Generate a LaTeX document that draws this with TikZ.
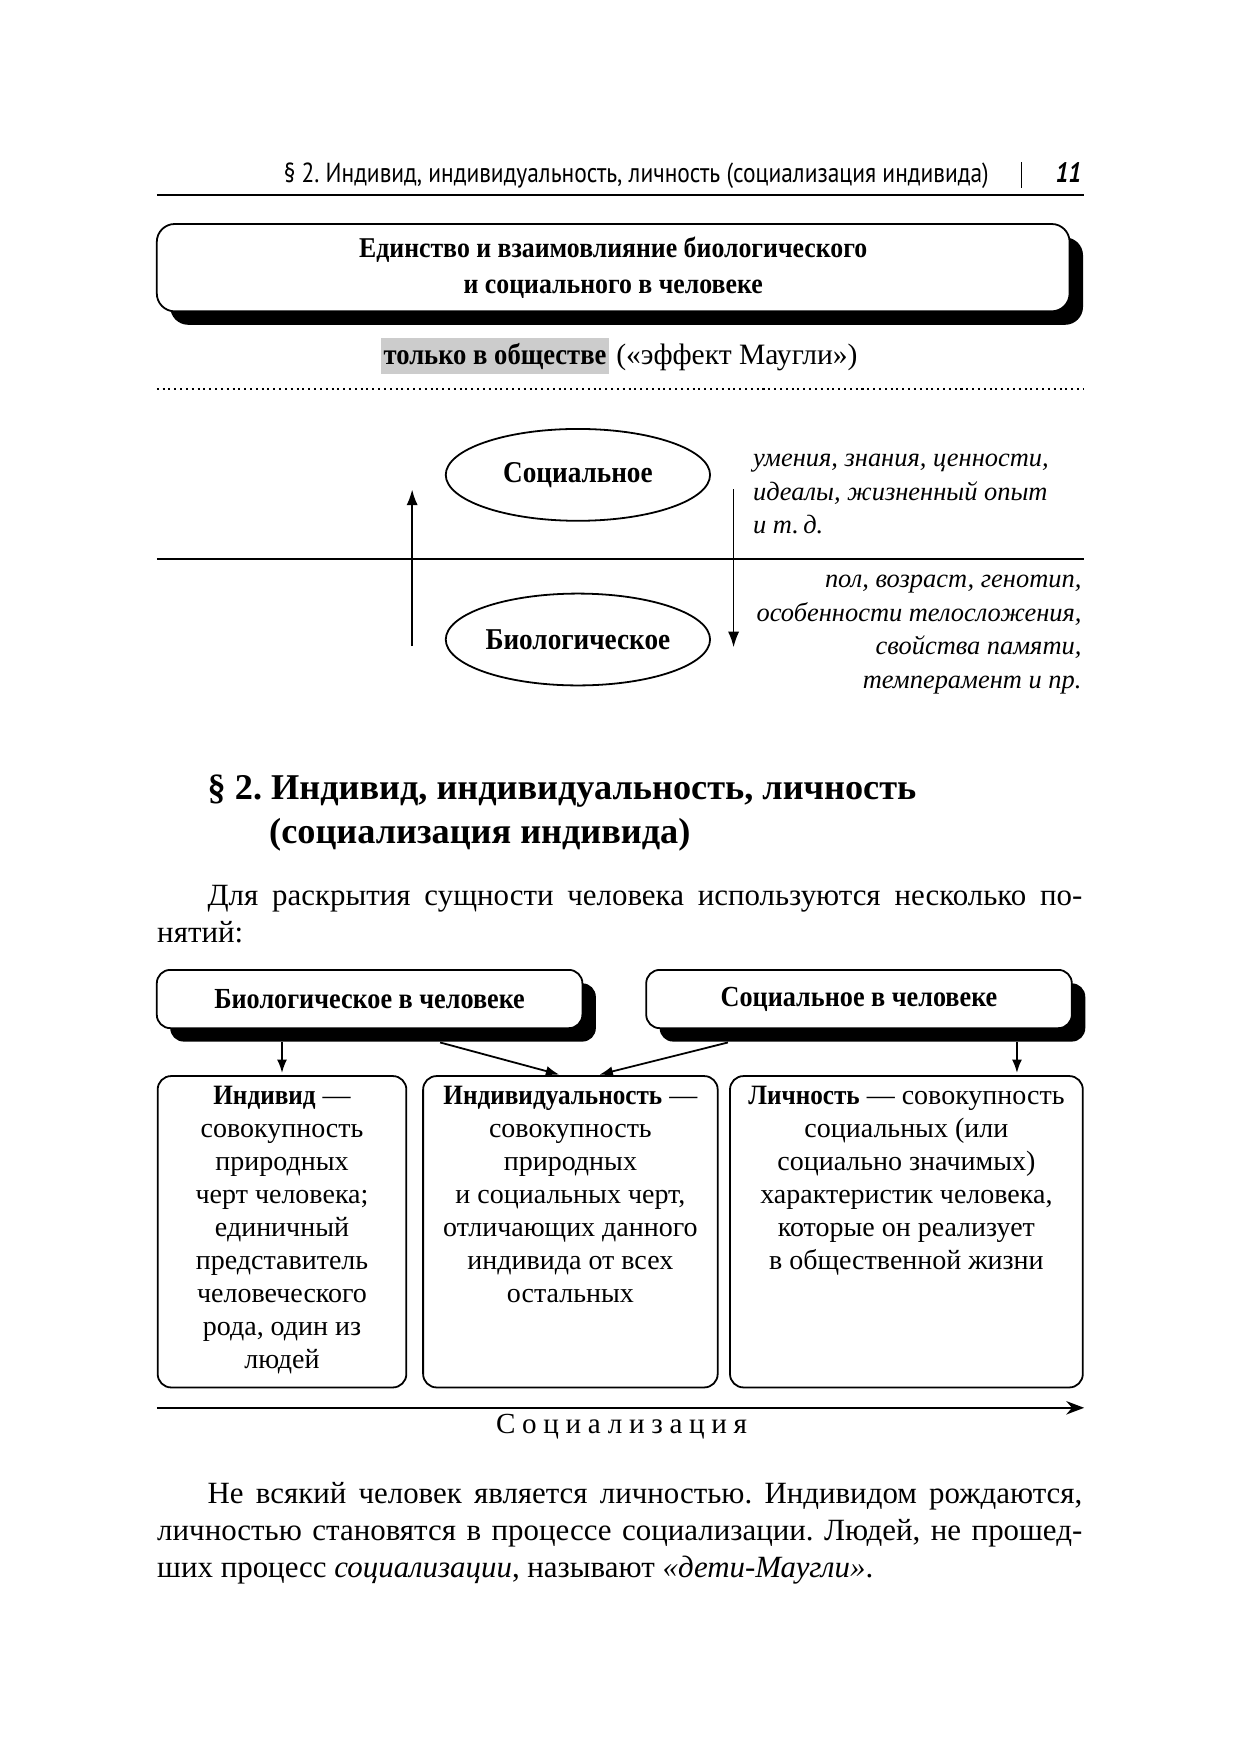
\documentclass[tikz,border=0pt]{standalone}
\usepackage{fontspec}
\setmainfont{Liberation Serif}
\newfontfamily\narrowfont{Liberation Serif}[FakeStretch=0.9]
\newfontfamily\runfont{PT Sans}[FakeStretch=0.85]
\usepackage{tikz}
\usetikzlibrary{shapes.geometric, shadows, arrows.meta, positioning, calc}
\hyphenpenalty=10000
\exhyphenpenalty=10000
\frenchspacing
\newcommand\defterm[1]{{\narrowfont\bfseries #1}}
\tikzset{
  headbox/.style={draw,thick,fill=white,rounded corners=8pt,align=center,
    drop shadow={shadow xshift=6pt,shadow yshift=-6pt,fill=black,opacity=1},
    font=\narrowfont\bfseries\fontsize{12.8}{16}\selectfont},
  topicbox/.style={headbox,rounded corners=6pt,minimum width=190pt,minimum height=26pt,
    font=\narrowfont\bfseries\fontsize{13}{16}\selectfont},
  sphere/.style={ellipse,draw,thick,inner sep=0pt,minimum width=118pt,minimum height=41pt,
    font=\narrowfont\bfseries\fontsize{13.5}{16}\selectfont},
  hlbox/.style={fill=black!20,inner xsep=1pt,inner ysep=0pt,minimum height=16pt,
    font=\narrowfont\bfseries\fontsize{13.2}{16}\selectfont},
  defbox/.style={draw,thick,rounded corners=6pt,minimum height=139pt,anchor=north west},
  deftext/.style={anchor=north,align=center,inner sep=0pt,
    font=\fontsize{12.5}{14.75}\selectfont},
  note/.style={inner sep=0pt,font=\itshape\fontsize{11.8}{15}\selectfont},
  para/.style={anchor=north west,inner sep=0pt,text width=413pt,align=justify,
    font=\fontsize{13.8}{16.5}\selectfont},
  conn/.style={thick,-{Latex[length=6pt,width=4.5pt]}},
  rule/.style={line width=0.7pt},
}

\begin{document}
\begin{tikzpicture}[x=0.5pt,y=-0.5pt]
  \useasboundingbox[fill=white] (0,0) rectangle (1107,1567);
  % running head
  \node[anchor=base west,inner sep=0pt,font=\runfont\fontsize{12.3}{14}\selectfont] (runhead) at (253,163)
    {§ 2. Индивид, индивидуальность, личность (социализация индивида)};
  \node[anchor=base east,inner sep=0pt,font=\runfont\bfseries\itshape\fontsize{12.5}{14}\selectfont] (folio) at (966,163) {11};
  \coordinate (barT) at (912,145);
  \coordinate (barB) at (912,168);
  \draw[rule] (barT) -- (barB);
  \coordinate (ruleL) at (140,174);
  \coordinate (ruleR) at (968,174);
  \draw[rule] (ruleL) -- (ruleR);

  % unity of biological and social
  \node[headbox,minimum width=407.5pt,minimum height=39pt] (unity) at (547.5,239)
    {Единство и взаимовлияние биологического\\и социального в человеке};
  \node[hlbox] (only) at (442,318) {только в обществе};
  \node[base right=3pt of only,inner sep=0pt,font=\fontsize{13.2}{16}\selectfont] (mowgli) {(«эффект Маугли»)};
  \coordinate (dotL) at (140,347);
  \coordinate (dotR) at (968,347);
  \draw[line width=0.9pt,dash pattern=on 0.9pt off 1.7pt] (dotL) -- (dotR);

  \node[sphere] (soc) at (516,424) {Социальное};
  \node[sphere] (bio) at (516,571) {Биологическое};
  \coordinate (axisL) at (140,499);
  \coordinate (axisR) at (968,499);
  \draw[line width=1pt] (axisL) -- (axisR);
  \coordinate (upS) at (368,577);
  \coordinate (upE) at (368,437);
  \coordinate (downS) at (655,437);
  \coordinate (downE) at (655,578);
  \draw[conn,-{Latex[length=7pt,width=5pt]}] (upS) -- (upE);
  \draw[conn,-{Latex[length=7pt,width=5pt]}] (downS) -- (downE);
  \node[note,anchor=north west,align=left] (socnote) at (672,405)
    {умения, знания, ценности,\\идеалы, жизненный опыт\\и т.\,д.};
  \node[note,anchor=north east,align=right] (bionote) at (966,513)
    {пол, возраст, генотип,\\особенности телосложения,\\свойства памяти,\\темперамент и пр.};

  % section heading
  \node[anchor=base west,inner sep=0pt,font=\bfseries\fontsize{16.2}{19.5}\selectfont] (sec) at (185,714)
    {§ 2. Индивид, индивидуальность, личность};
  \node[anchor=base west,inner sep=0pt,font=\bfseries\fontsize{16.2}{19.5}\selectfont] (secsub) at (240,753)
    {(социализация индивида)};
  \node[para] (intro) at (140,790)
    {\hspace*{22.5pt}Для раскрытия сущности человека используются несколько по-\linebreak нятий:};

  % concepts
  \node[topicbox] (bioT) at (330,892) {Биологическое в человеке};
  \node[topicbox] (socT) at (767,892) {Социальное в человеке};
  \node[defbox,minimum width=111pt] (indiv) at (140,960) {};
  \node[defbox,minimum width=131.5pt] (indivd) at (377,960) {};
  \node[defbox,minimum width=157.5pt] (lichn) at (651,960) {};
  \node[deftext] (indivT) at ([yshift=-4.75pt]indiv.north)
    {\defterm{Индивид} —\\совокупность\\природных\\черт человека;\\единичный\\представитель\\человеческого\\рода, один из\\людей};
  \node[deftext] (indivdT) at ([yshift=-4.75pt]indivd.north)
    {\defterm{Индивидуальность} —\\совокупность\\природных\\и социальных черт,\\отличающих данного\\индивида от всех\\остальных};
  \node[deftext] (lichnT) at ([yshift=-4.75pt]lichn.north)
    {\defterm{Личность} — совокупность\\социальных (или\\социально значимых)\\характеристик человека,\\которые он реализует\\в общественной жизни};
  \coordinate (bioFoot) at ([yshift=-6pt]bioT.south);
  \coordinate (socFoot) at ([yshift=-6pt]socT.south);
  \coordinate (socRight) at ([xshift=70.5pt]socFoot);
  \draw[conn,shorten >=1pt] (bioFoot -| indiv.north) -- (indiv.north);
  \draw[conn,shorten >=1pt] ([xshift=31.5pt]bioFoot) -- ([xshift=-4pt]indivd.north);
  \draw[conn,shorten >=1pt] ([xshift=-58.5pt]socFoot) -- ([xshift=12pt]indivd.north);
  \draw[conn,shorten >=1pt] (socRight) -- (socRight |- lichn.north);

  % socialization axis
  \coordinate (sozStart) at (140,1257);
  \coordinate (sozEnd) at (968,1257);
  \draw[thick,-{Stealth[length=8pt,width=6pt]}] (sozStart) -- (sozEnd);
  \node[font=\fontsize{13}{15}\selectfont\addfontfeature{LetterSpace=23}] (soz) at (555,1274) {Социализация};
  \node[para] (closing) at (140,1323)
    {\hspace*{22.5pt}Не всякий человек является личностью. Индивидом рождаются,\linebreak личностью становятся в процессе социализации. Людей, не прошед-\linebreak ших процесс \textit{социализации}, называют \textit{«дети-Маугли»}.};
\end{tikzpicture}
\end{document}
